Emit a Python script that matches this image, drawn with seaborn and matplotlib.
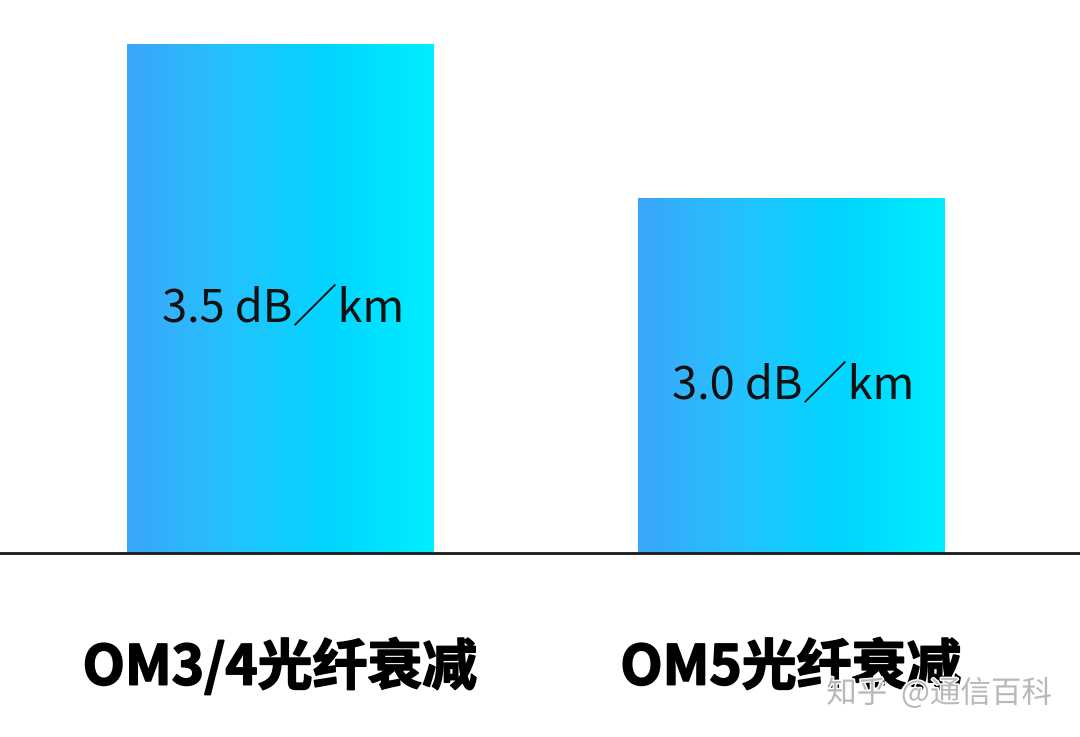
import numpy as np
import pandas as pd
import matplotlib
matplotlib.use("Agg")
import matplotlib.pyplot as plt
import matplotlib.patheffects as pe
from matplotlib.colors import LinearSegmentedColormap
import seaborn as sns

# data
categories = ["OM3/4光纤衰减", "OM5光纤衰减"]
attenuation = [3.5, 3.0]
value_labels = ["3.5 dB／km", "3.0 dB／km"]

df = pd.DataFrame({"cat": categories, "val": attenuation})

sns.set_style("white")
plt.rcParams["font.family"] = ["Noto Sans CJK SC", "DejaVu Sans"]

fig = plt.figure(figsize=(10.8, 7.37), dpi=100)
ax = fig.add_axes([0, 0.249, 1, 0.751])

sns.barplot(data=df, x="cat", y="val", width=0.6, color="#2ec4ff",
            saturation=1, ax=ax)

ymin, ymax = 1.849, 3.646

# horizontal gradient inside each bar
grad = LinearSegmentedColormap.from_list(
    "bar_grad", ["#3ba6fa", "#24c2ff", "#00d5ff", "#00eeff"])
g = np.linspace(0, 1, 256).reshape(1, -1)
for bar in ax.patches:
    x0 = bar.get_x()
    w, h = bar.get_width(), bar.get_height()
    y0 = max(bar.get_y(), ymin)
    ax.imshow(g, cmap=grad, aspect="auto",
              extent=[x0, x0 + w, y0, bar.get_y() + h], zorder=3)

ax.set_xlim(-0.548, 1.566)
ax.set_ylim(ymin, ymax)

for bar, lab in zip(ax.patches, value_labels):
    cx = bar.get_x() + bar.get_width() / 2
    cy = (ymin + bar.get_height()) / 2
    ax.annotate(lab, (cx, cy), xytext=(2, -7), textcoords="offset points",
                ha="center", va="center", fontsize=32.5,
                color="#111111", zorder=4)

ax.set_xlabel("")
ax.set_ylabel("")
ax.set_yticks([])
ax.set_xticks(range(len(categories)))
ax.set_xticklabels(categories, fontsize=39.5, fontweight="heavy", color="#000000")
for t in ax.get_xticklabels():
    t.set_path_effects([pe.withStroke(linewidth=1.2, foreground="black")])
ax.tick_params(axis="x", length=0, pad=62)

for s in ["top", "left", "right"]:
    ax.spines[s].set_visible(False)
ax.spines["bottom"].set_linewidth(2)
ax.spines["bottom"].set_color("#1a1a1a")
ax.spines["bottom"].set_zorder(5)

fig.text(0.974, 0.059, "知乎  @通信百科", ha="right", va="center",
         fontsize=22, color="#b8b8b8",
         path_effects=[pe.withStroke(linewidth=2, foreground="white")])

fig.savefig("out.png", dpi=100)
